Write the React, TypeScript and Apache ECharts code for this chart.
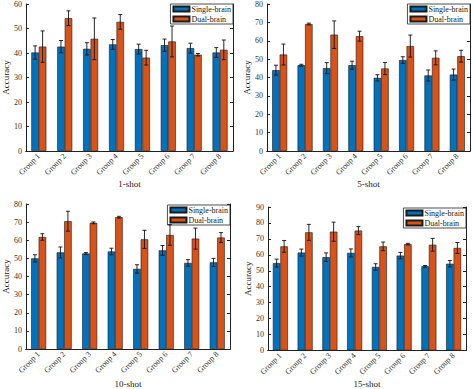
import React, { useEffect, useRef } from "react";
import * as echarts from "echarts";

const groups = ["Group 1", "Group 2", "Group 3", "Group 4", "Group 5", "Group 6", "Group 7", "Group 8"];
const seriesNames = ["Single-brain", "Dual-brain"];
const shotLabels = ["1-shot", "5-shot", "10-shot", "15-shot"];
const yMaxes = [60, 80, 80, 90];

const single1 = [40.2, 42.6, 41.7, 43.5, 41.6, 43.2, 42.0, 40.2];
const single1Err = [2.7, 2.5, 2.5, 2.0, 2.0, 2.5, 2.0, 2.0];
const dual1 = [42.6, 54.2, 45.8, 52.7, 38.1, 44.7, 39.3, 41.3];
const dual1Err = [6.4, 3.0, 8.5, 3.0, 3.0, 6.3, 0.5, 4.0];

const single5 = [44.0, 46.7, 45.1, 46.7, 39.8, 49.5, 41.1, 41.6];
const single5Err = [2.7, 0.5, 3.0, 2.2, 1.7, 1.8, 3.0, 3.0];
const dual5 = [52.5, 69.1, 63.3, 62.5, 44.9, 57.1, 50.7, 51.6];
const dual5Err = [5.7, 0.5, 7.5, 2.7, 3.3, 6.0, 3.8, 3.2];

const single10 = [50.0, 53.3, 52.7, 53.8, 44.2, 54.4, 47.5, 47.8];
const single10Err = [2.0, 3.0, 0.5, 1.8, 2.3, 2.7, 1.8, 2.2];
const dual10 = [61.8, 70.5, 69.6, 72.7, 60.5, 62.9, 60.9, 61.5];
const dual10Err = [1.8, 5.5, 0.5, 0.5, 5.0, 5.7, 5.8, 2.7];

const single15 = [54.8, 61.4, 58.5, 61.2, 52.4, 59.5, 52.8, 54.4];
const single15Err = [2.5, 2.2, 2.7, 2.5, 2.0, 2.0, 0.5, 2.0];
const dual15 = [65.3, 74.1, 74.5, 75.2, 65.3, 66.7, 66.3, 64.3];
const dual15Err = [3.7, 5.0, 6.0, 2.5, 2.7, 0.5, 4.0, 3.4];

const panels = [
  { single: single1, singleErr: single1Err, dual: dual1, dualErr: dual1Err },
  { single: single5, singleErr: single5Err, dual: dual5, dualErr: dual5Err },
  { single: single10, singleErr: single10Err, dual: dual10, dualErr: dual10Err },
  { single: single15, singleErr: single15Err, dual: dual15, dualErr: dual15Err },
];

const grids = [
  { left: 25, top: 3, width: 208, height: 148 },
  { left: 267, top: 3, width: 203, height: 148 },
  { left: 23, top: 204, width: 207, height: 147 },
  { left: 268, top: 207, width: 198, height: 146 },
];
const legendPos = [
  { right: 241, top: 4 },
  { right: 4, top: 4 },
  { right: 244, top: 205 },
  { right: 8, top: 208 },
];
const nameGaps = [27, 27, 30, 28];

const FONT = "Liberation Serif, Times New Roman, serif";
const BLUE = "#0072BD";
const ORANGE = "#D95319";
const BAR_W = 7.5;

export default function App() {
  const ref = useRef<HTMLDivElement>(null);
  useEffect(() => {
    if (!ref.current) return;
    const chart = echarts.init(ref.current, undefined, { renderer: "svg" });
    const xAxis: any[] = [];
    const yAxis: any[] = [];
    const series: any[] = [];
    const legend: any[] = [];
    panels.forEach((p, k) => {
      xAxis.push({
        type: "category",
        gridIndex: k,
        data: groups,
        position: "bottom",
        name: shotLabels[k],
        nameLocation: "middle",
        nameGap: nameGaps[k],
        nameTextStyle: { fontFamily: FONT, fontSize: 9, color: "#222" },
        axisLine: { lineStyle: { color: "#222", width: 1 } },
        axisTick: { inside: true, length: 3, alignWithLabel: true, lineStyle: { color: "#222" } },
        axisLabel: { rotate: 45, fontFamily: FONT, fontSize: 8, color: "#333", margin: 4, interval: 0 },
      });
      xAxis.push({
        type: "category",
        gridIndex: k,
        data: groups,
        position: "top",
        axisLine: { lineStyle: { color: "#222", width: 1 } },
        axisTick: { inside: true, length: 3, alignWithLabel: true, lineStyle: { color: "#222" } },
        axisLabel: { show: false },
      });
      yAxis.push({
        type: "value",
        gridIndex: k,
        min: 0,
        max: yMaxes[k],
        interval: 10,
        position: "left",
        name: "Accuracy",
        nameLocation: "middle",
        nameGap: 15,
        nameTextStyle: { fontFamily: FONT, fontSize: 9, color: "#222" },
        axisLine: { show: true, lineStyle: { color: "#222", width: 1 } },
        axisTick: { show: true, inside: true, length: 3, lineStyle: { color: "#222" } },
        axisLabel: { fontFamily: FONT, fontSize: 8, color: "#333", margin: 4 },
        splitLine: { show: false },
      });
      yAxis.push({
        type: "value",
        gridIndex: k,
        min: 0,
        max: yMaxes[k],
        interval: 10,
        position: "right",
        axisLine: { show: true, lineStyle: { color: "#222", width: 1 } },
        axisTick: { show: true, inside: true, length: 3, lineStyle: { color: "#222" } },
        axisLabel: { show: false },
        splitLine: { show: false },
      });
      const xi = 2 * k;
      const yi = 2 * k;
      series.push({
        type: "bar",
        name: seriesNames[0],
        xAxisIndex: xi,
        yAxisIndex: yi,
        data: p.single,
        barWidth: BAR_W,
        barGap: "0%",
        itemStyle: { color: BLUE, borderColor: "#1a1a1a", borderWidth: 0.6 },
      });
      series.push({
        type: "bar",
        name: seriesNames[1],
        xAxisIndex: xi,
        yAxisIndex: yi,
        data: p.dual,
        barWidth: BAR_W,
        barGap: "0%",
        itemStyle: { color: ORANGE, borderColor: "#1a1a1a", borderWidth: 0.6 },
      });
      const mkErr = (vals: number[], errs: number[], offset: number) => ({
        type: "custom",
        xAxisIndex: xi,
        yAxisIndex: yi,
        z: 10,
        silent: true,
        encode: { x: 0, y: 1 },
        data: vals.map((v, i) => [i, v, errs[i]]),
        renderItem: (params: any, api: any) => {
          const i = api.value(0);
          const v = api.value(1);
          const e = api.value(2);
          const top = api.coord([i, v + e]);
          const bot = api.coord([i, v - e]);
          const x = top[0] + offset;
          const st = { stroke: "#111", lineWidth: 0.9 };
          return {
            type: "group",
            children: [
              { type: "line", shape: { x1: x, y1: top[1], x2: x, y2: bot[1] }, style: st },
              { type: "line", shape: { x1: x - 2, y1: top[1], x2: x + 2, y2: top[1] }, style: st },
              { type: "line", shape: { x1: x - 2, y1: bot[1], x2: x + 2, y2: bot[1] }, style: st },
            ],
          };
        },
      });
      series.push(mkErr(p.single, p.singleErr, -BAR_W / 2));
      series.push(mkErr(p.dual, p.dualErr, BAR_W / 2));
      legend.push({
        data: seriesNames,
        orient: "vertical",
        right: legendPos[k].right,
        top: legendPos[k].top,
        itemWidth: 16,
        itemHeight: 5,
        itemGap: 2,
        padding: [1, 2, 1, 2],
        borderColor: "#222",
        borderWidth: 0.8,
        backgroundColor: "#fff",
        selectedMode: false,
        icon: "rect",
        textStyle: { fontFamily: FONT, fontSize: 8, color: "#222", padding: [0, 0, 0, -3] },
      });
    });
    chart.setOption({
      animation: false,
      backgroundColor: "#fff",
      grid: grids.map((g) => ({ ...g, containLabel: false })),
      xAxis,
      yAxis,
      series,
      legend,
    });
    return () => chart.dispose();
  }, []);
  return (
    <div
      ref={ref}
      style={{ position: "fixed", left: 0, top: 0, width: 474, height: 389 }}
    />
  );
}
